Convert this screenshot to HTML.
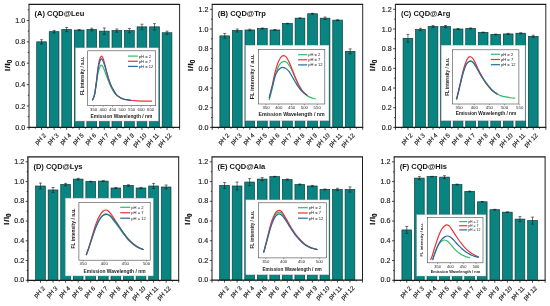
<!DOCTYPE html>
<html><head><meta charset="utf-8"><title>CQD pH fluorescence</title>
<style>
html,body{margin:0;padding:0;background:#fff;}
body{width:550px;height:306px;overflow:hidden;}
svg{display:block;font-family:"Liberation Sans",sans-serif;}
</style></head><body>
<svg width="550" height="306" viewBox="0 0 550 306">
<rect width="550" height="306" fill="#fff"/>
<rect x="36.7" y="41.83" width="9.7" height="85.57" fill="#0a8481" stroke="#083e3e" stroke-width="0.7"/>
<rect x="49.25" y="31.67" width="9.7" height="95.73" fill="#0a8481" stroke="#083e3e" stroke-width="0.7"/>
<rect x="61.8" y="29.53" width="9.7" height="97.87" fill="#0a8481" stroke="#083e3e" stroke-width="0.7"/>
<rect x="74.35" y="30.07" width="9.7" height="97.33" fill="#0a8481" stroke="#083e3e" stroke-width="0.7"/>
<rect x="86.9" y="29.53" width="9.7" height="97.87" fill="#0a8481" stroke="#083e3e" stroke-width="0.7"/>
<rect x="99.45" y="31.14" width="9.7" height="96.26" fill="#0a8481" stroke="#083e3e" stroke-width="0.7"/>
<rect x="112" y="30.6" width="9.7" height="96.8" fill="#0a8481" stroke="#083e3e" stroke-width="0.7"/>
<rect x="124.55" y="30.6" width="9.7" height="96.8" fill="#0a8481" stroke="#083e3e" stroke-width="0.7"/>
<rect x="137.1" y="26.86" width="9.7" height="100.54" fill="#0a8481" stroke="#083e3e" stroke-width="0.7"/>
<rect x="149.65" y="26.86" width="9.7" height="100.54" fill="#0a8481" stroke="#083e3e" stroke-width="0.7"/>
<rect x="162.2" y="32.74" width="9.7" height="94.66" fill="#0a8481" stroke="#083e3e" stroke-width="0.7"/>
<path d="M41.55 39.7V43.97M40.05 39.7h3M40.05 43.97h3" stroke="#1a1a1a" stroke-width="0.6" fill="none"/>
<path d="M54.1 30.39V32.96M52.6 30.39h3M52.6 32.96h3" stroke="#1a1a1a" stroke-width="0.6" fill="none"/>
<path d="M66.65 27.4V31.67M65.15 27.4h3M65.15 31.67h3" stroke="#1a1a1a" stroke-width="0.6" fill="none"/>
<path d="M79.2 29.53V30.6M77.7 29.53h3M77.7 30.6h3" stroke="#1a1a1a" stroke-width="0.6" fill="none"/>
<path d="M91.75 28.25V30.82M90.25 28.25h3M90.25 30.82h3" stroke="#1a1a1a" stroke-width="0.6" fill="none"/>
<path d="M104.3 27.93V34.35M102.8 27.93h3M102.8 34.35h3" stroke="#1a1a1a" stroke-width="0.6" fill="none"/>
<path d="M116.85 29V32.21M115.35 29h3M115.35 32.21h3" stroke="#1a1a1a" stroke-width="0.6" fill="none"/>
<path d="M129.4 28.47V32.74M127.9 28.47h3M127.9 32.74h3" stroke="#1a1a1a" stroke-width="0.6" fill="none"/>
<path d="M141.95 24.19V29.53M140.45 24.19h3M140.45 29.53h3" stroke="#1a1a1a" stroke-width="0.6" fill="none"/>
<path d="M154.5 23.65V30.07M153 23.65h3M153 30.07h3" stroke="#1a1a1a" stroke-width="0.6" fill="none"/>
<path d="M167.05 31.14V34.35M165.55 31.14h3M165.55 34.35h3" stroke="#1a1a1a" stroke-width="0.6" fill="none"/>
<rect x="75.5" y="47.9" width="82.8" height="73.1" fill="#fff" stroke="#bbb" stroke-width="0.4"/>
<path d="M92.64 99.85C92.96 99.03 93.91 97.64 94.54 94.92C95.17 92.2 95.9 86.92 96.44 83.54C96.97 80.15 97.29 77.15 97.76 74.62C98.24 72.09 98.71 69.94 99.28 68.35C99.85 66.77 100.55 65.32 101.18 65.13C101.81 64.94 102.45 66.11 103.08 67.22C103.71 68.32 104.34 70.13 104.98 71.77C105.61 73.41 106.24 75.41 106.87 77.08C107.51 78.76 108.14 80.31 108.77 81.83C109.4 83.35 109.88 84.61 110.67 86.19C111.46 87.77 112.57 89.83 113.51 91.31C114.46 92.8 115.25 94.03 116.36 95.11C117.47 96.19 118.89 97.07 120.16 97.77C121.42 98.46 122.21 98.87 123.95 99.28C125.69 99.7 129.49 100.08 130.59 100.23" fill="none" stroke="#34b96b" stroke-width="1.2" stroke-linejoin="round" stroke-linecap="round"/>
<path d="M92.64 99.85C92.96 98.97 93.91 97.64 94.54 94.54C95.17 91.44 95.9 85.37 96.44 81.26C96.97 77.15 97.29 73.29 97.76 69.87C98.24 66.46 98.71 63.04 99.28 60.76C99.85 58.49 100.55 56.59 101.18 56.21C101.81 55.83 102.45 57 103.08 58.49C103.71 59.97 104.34 62.76 104.98 65.13C105.61 67.5 106.24 70.35 106.87 72.72C107.51 75.09 108.14 77.37 108.77 79.36C109.4 81.35 109.88 82.84 110.67 84.67C111.46 86.51 112.57 88.72 113.51 90.37C114.46 92.01 115.25 93.34 116.36 94.54C117.47 95.74 118.89 96.79 120.16 97.58C121.42 98.37 122.37 98.84 123.95 99.28C125.53 99.73 127.43 99.98 129.64 100.23C131.86 100.49 133.6 100.64 137.23 100.8C140.87 100.96 149.09 101.12 151.46 101.18" fill="none" stroke="#ee3039" stroke-width="1.2" stroke-linejoin="round" stroke-linecap="round"/>
<path d="M92.64 99.85C92.96 99 93.91 97.7 94.54 94.73C95.17 91.76 95.9 85.91 96.44 82.02C96.97 78.13 97.29 74.52 97.76 71.39C98.24 68.26 98.71 65.32 99.28 63.23C99.85 61.14 100.55 59.25 101.18 58.87C101.81 58.49 102.45 59.69 103.08 60.95C103.71 62.22 104.34 64.43 104.98 66.46C105.61 68.48 106.24 70.95 106.87 73.1C107.51 75.25 108.14 77.43 108.77 79.36C109.4 81.29 109.88 82.84 110.67 84.67C111.46 86.51 112.57 88.72 113.51 90.37C114.46 92.01 115.25 93.34 116.36 94.54C117.47 95.74 118.89 96.79 120.16 97.58C121.42 98.37 122.21 98.84 123.95 99.28C125.69 99.73 129.49 100.08 130.59 100.23" fill="none" stroke="#276a9e" stroke-width="1.2" stroke-linejoin="round" stroke-linecap="round"/>
<rect x="87.7" y="50.8" width="68" height="54.9" fill="none" stroke="#444" stroke-width="0.6"/>
<path d="M93.6 105.7v1.2" stroke="#444" stroke-width="0.5"/>
<text x="93.6" y="111.35" font-size="4.3" text-anchor="middle" fill="#222">350</text>
<path d="M103.1 105.7v1.2" stroke="#444" stroke-width="0.5"/>
<text x="103.1" y="111.35" font-size="4.3" text-anchor="middle" fill="#222">400</text>
<path d="M112.6 105.7v1.2" stroke="#444" stroke-width="0.5"/>
<text x="112.6" y="111.35" font-size="4.3" text-anchor="middle" fill="#222">450</text>
<path d="M122.1 105.7v1.2" stroke="#444" stroke-width="0.5"/>
<text x="122.1" y="111.35" font-size="4.3" text-anchor="middle" fill="#222">500</text>
<path d="M131.6 105.7v1.2" stroke="#444" stroke-width="0.5"/>
<text x="131.6" y="111.35" font-size="4.3" text-anchor="middle" fill="#222">550</text>
<path d="M141.1 105.7v1.2" stroke="#444" stroke-width="0.5"/>
<text x="141.1" y="111.35" font-size="4.3" text-anchor="middle" fill="#222">600</text>
<path d="M150.6 105.7v1.2" stroke="#444" stroke-width="0.5"/>
<text x="150.6" y="111.35" font-size="4.3" text-anchor="middle" fill="#222">650</text>
<text x="121.5" y="117.67" font-size="4.9" font-weight="bold" text-anchor="middle" fill="#222">Emission Wavelength / nm</text>
<text transform="translate(83.69 75.95) rotate(-90)" font-size="4.7" font-weight="bold" text-anchor="middle" fill="#222">FL intensity / a.u.</text>
<path d="M128 56.1h9.8" stroke="#34b96b" stroke-width="1.2"/>
<text x="138.8" y="57.58" font-size="4.1" fill="#222">pH = 2</text>
<path d="M128 61.25h9.8" stroke="#ee3039" stroke-width="1.2"/>
<text x="138.8" y="62.73" font-size="4.1" fill="#222">pH = 7</text>
<path d="M128 66.4h9.8" stroke="#276a9e" stroke-width="1.2"/>
<text x="138.8" y="67.88" font-size="4.1" fill="#222">pH = 12</text>
<path d="M28.52 4.4H180.07M28.52 127.4H180.07" stroke="#1c1c1c" stroke-width="1.1" fill="none"/>
<path d="M29 4.4V127.4" stroke="#1c1c1c" stroke-width="0.95" fill="none"/>
<path d="M179.6 4.4V127.4" stroke="#1c1c1c" stroke-width="0.95" fill="none"/>
<text x="25.2" y="129.95" font-size="7.1" text-anchor="end" fill="#1a1a1a" stroke="#1a1a1a" stroke-width="0.15">0.0</text>
<text x="25.2" y="108.56" font-size="7.1" text-anchor="end" fill="#1a1a1a" stroke="#1a1a1a" stroke-width="0.15">0.2</text>
<text x="25.2" y="87.17" font-size="7.1" text-anchor="end" fill="#1a1a1a" stroke="#1a1a1a" stroke-width="0.15">0.4</text>
<text x="25.2" y="65.78" font-size="7.1" text-anchor="end" fill="#1a1a1a" stroke="#1a1a1a" stroke-width="0.15">0.6</text>
<text x="25.2" y="44.38" font-size="7.1" text-anchor="end" fill="#1a1a1a" stroke="#1a1a1a" stroke-width="0.15">0.8</text>
<text x="25.2" y="22.99" font-size="7.1" text-anchor="end" fill="#1a1a1a" stroke="#1a1a1a" stroke-width="0.15">1.0</text>
<path d="M29 127.4h-2.2M29 116.7h-1.2M29 106.01h-2.2M29 95.31h-1.2M29 84.62h-2.2M29 73.92h-1.2M29 63.23h-2.2M29 52.53h-1.2M29 41.83h-2.2M29 31.14h-1.2M29 20.44h-2.2M29 9.75h-1.2M29 127.4v2.4M35.27 127.4v1.3M41.55 127.4v2.4M47.83 127.4v1.3M54.1 127.4v2.4M60.38 127.4v1.3M66.65 127.4v2.4M72.92 127.4v1.3M79.2 127.4v2.4M85.47 127.4v1.3M91.75 127.4v2.4M98.02 127.4v1.3M104.3 127.4v2.4M110.57 127.4v1.3M116.85 127.4v2.4M123.12 127.4v1.3M129.4 127.4v2.4M135.68 127.4v1.3M141.95 127.4v2.4M148.22 127.4v1.3M154.5 127.4v2.4M160.77 127.4v1.3M167.05 127.4v2.4M173.32 127.4v1.3M179.6 127.4v2.4" stroke="#1c1c1c" stroke-width="0.8" fill="none"/>
<text transform="translate(46.55 135.8) rotate(-45)" font-size="6.2" text-anchor="end" fill="#1a1a1a" stroke="#1a1a1a" stroke-width="0.15">pH 2</text>
<text transform="translate(59.1 135.8) rotate(-45)" font-size="6.2" text-anchor="end" fill="#1a1a1a" stroke="#1a1a1a" stroke-width="0.15">pH 3</text>
<text transform="translate(71.65 135.8) rotate(-45)" font-size="6.2" text-anchor="end" fill="#1a1a1a" stroke="#1a1a1a" stroke-width="0.15">pH 4</text>
<text transform="translate(84.2 135.8) rotate(-45)" font-size="6.2" text-anchor="end" fill="#1a1a1a" stroke="#1a1a1a" stroke-width="0.15">pH 5</text>
<text transform="translate(96.75 135.8) rotate(-45)" font-size="6.2" text-anchor="end" fill="#1a1a1a" stroke="#1a1a1a" stroke-width="0.15">pH 6</text>
<text transform="translate(109.3 135.8) rotate(-45)" font-size="6.2" text-anchor="end" fill="#1a1a1a" stroke="#1a1a1a" stroke-width="0.15">pH 7</text>
<text transform="translate(121.85 135.8) rotate(-45)" font-size="6.2" text-anchor="end" fill="#1a1a1a" stroke="#1a1a1a" stroke-width="0.15">pH 8</text>
<text transform="translate(134.4 135.8) rotate(-45)" font-size="6.2" text-anchor="end" fill="#1a1a1a" stroke="#1a1a1a" stroke-width="0.15">pH 9</text>
<text transform="translate(146.95 135.8) rotate(-45)" font-size="6.2" text-anchor="end" fill="#1a1a1a" stroke="#1a1a1a" stroke-width="0.15">pH 10</text>
<text transform="translate(159.5 135.8) rotate(-45)" font-size="6.2" text-anchor="end" fill="#1a1a1a" stroke="#1a1a1a" stroke-width="0.15">pH 11</text>
<text transform="translate(172.05 135.8) rotate(-45)" font-size="6.2" text-anchor="end" fill="#1a1a1a" stroke="#1a1a1a" stroke-width="0.15">pH 12</text>
<text x="34.5" y="15.9" font-size="7.5" font-weight="bold" fill="#111">(A) CQD@Leu</text>
<text transform="translate(10.1 71.1) rotate(-90)" font-size="7.4" font-weight="bold" letter-spacing="0.8" fill="#111" stroke="#111" stroke-width="0.25">I/I<tspan font-size="6.3" dy="2.1" dx="-0.8">0</tspan></text>
<rect x="219.89" y="35.89" width="9.7" height="91.51" fill="#0a8481" stroke="#083e3e" stroke-width="0.7"/>
<rect x="232.43" y="30.48" width="9.7" height="96.92" fill="#0a8481" stroke="#083e3e" stroke-width="0.7"/>
<rect x="244.97" y="29.98" width="9.7" height="97.42" fill="#0a8481" stroke="#083e3e" stroke-width="0.7"/>
<rect x="257.52" y="28.51" width="9.7" height="98.89" fill="#0a8481" stroke="#083e3e" stroke-width="0.7"/>
<rect x="270.06" y="29.98" width="9.7" height="97.42" fill="#0a8481" stroke="#083e3e" stroke-width="0.7"/>
<rect x="282.6" y="23.59" width="9.7" height="103.81" fill="#0a8481" stroke="#083e3e" stroke-width="0.7"/>
<rect x="295.14" y="18.18" width="9.7" height="109.22" fill="#0a8481" stroke="#083e3e" stroke-width="0.7"/>
<rect x="307.68" y="13.75" width="9.7" height="113.65" fill="#0a8481" stroke="#083e3e" stroke-width="0.7"/>
<rect x="320.22" y="18.18" width="9.7" height="109.22" fill="#0a8481" stroke="#083e3e" stroke-width="0.7"/>
<rect x="332.77" y="20.14" width="9.7" height="107.26" fill="#0a8481" stroke="#083e3e" stroke-width="0.7"/>
<rect x="345.31" y="51.34" width="9.7" height="76.06" fill="#0a8481" stroke="#083e3e" stroke-width="0.7"/>
<path d="M224.74 33.43V38.35M223.24 33.43h3M223.24 38.35h3" stroke="#1a1a1a" stroke-width="0.6" fill="none"/>
<path d="M237.28 29V31.95M235.78 29h3M235.78 31.95h3" stroke="#1a1a1a" stroke-width="0.6" fill="none"/>
<path d="M249.82 29.2V30.77M248.32 29.2h3M248.32 30.77h3" stroke="#1a1a1a" stroke-width="0.6" fill="none"/>
<path d="M262.37 28.02V29M260.87 28.02h3M260.87 29h3" stroke="#1a1a1a" stroke-width="0.6" fill="none"/>
<path d="M274.91 29.49V30.48M273.41 29.49h3M273.41 30.48h3" stroke="#1a1a1a" stroke-width="0.6" fill="none"/>
<path d="M287.45 23.29V23.88M285.95 23.29h3M285.95 23.88h3" stroke="#1a1a1a" stroke-width="0.6" fill="none"/>
<path d="M299.99 17.88V18.47M298.49 17.88h3M298.49 18.47h3" stroke="#1a1a1a" stroke-width="0.6" fill="none"/>
<path d="M312.53 13.26V14.24M311.03 13.26h3M311.03 14.24h3" stroke="#1a1a1a" stroke-width="0.6" fill="none"/>
<path d="M325.07 17V19.36M323.57 17h3M323.57 19.36h3" stroke="#1a1a1a" stroke-width="0.6" fill="none"/>
<path d="M337.62 19.75V20.54M336.12 19.75h3M336.12 20.54h3" stroke="#1a1a1a" stroke-width="0.6" fill="none"/>
<path d="M350.16 48.88V53.8M348.66 48.88h3M348.66 53.8h3" stroke="#1a1a1a" stroke-width="0.6" fill="none"/>
<rect x="245.7" y="45.2" width="83.2" height="75.5" fill="#fff" stroke="#bbb" stroke-width="0.4"/>
<path d="M269.28 99.61C269.76 97.81 271.18 92.66 272.13 88.8C273.08 84.94 274.03 79.94 274.98 76.46C275.92 72.98 276.87 70.14 277.82 67.92C278.77 65.71 279.56 64.29 280.67 63.18C281.77 62.07 283.36 61.35 284.46 61.28C285.57 61.22 286.36 61.85 287.31 62.8C288.26 63.75 289.21 65.33 290.16 66.98C291.1 68.62 292.05 70.61 293 72.67C293.95 74.72 294.9 77.25 295.85 79.31C296.8 81.36 297.75 83.26 298.69 85C299.64 86.74 300.59 88.32 301.54 89.75C302.49 91.17 303.28 92.43 304.39 93.54C305.49 94.65 306.76 95.6 308.18 96.39C309.61 97.18 311.76 97.87 312.93 98.28C314.1 98.7 314.82 98.76 315.2 98.85" fill="none" stroke="#34b96b" stroke-width="1.2" stroke-linejoin="round" stroke-linecap="round"/>
<path d="M269.28 97.72C269.76 95.75 271.18 90.13 272.13 85.95C273.08 81.78 274.03 76.46 274.98 72.67C275.92 68.87 276.87 65.71 277.82 63.18C278.77 60.65 279.72 58.75 280.67 57.49C281.62 56.22 282.57 55.65 283.51 55.59C284.46 55.53 285.41 56 286.36 57.11C287.31 58.22 288.26 60.21 289.21 62.23C290.16 64.26 291.1 66.88 292.05 69.25C293 71.62 293.95 74.15 294.9 76.46C295.85 78.77 296.8 81.14 297.75 83.1C298.69 85.07 299.64 86.74 300.59 88.23C301.54 89.71 302.39 90.88 303.44 92.02C304.48 93.16 306.28 94.55 306.85 95.06" fill="none" stroke="#ee3039" stroke-width="1.2" stroke-linejoin="round" stroke-linecap="round"/>
<path d="M269.28 97.72C269.76 95.91 271.18 90.44 272.13 86.9C273.08 83.36 274.03 79.15 274.98 76.46C275.92 73.77 276.87 72.19 277.82 70.77C278.77 69.35 279.81 68.49 280.67 67.92C281.52 67.35 282 67.2 282.94 67.35C283.89 67.51 285.32 68.15 286.36 68.87C287.4 69.6 288.26 70.45 289.21 71.72C290.16 72.98 291.1 74.88 292.05 76.46C293 78.04 293.95 79.63 294.9 81.21C295.85 82.79 296.8 84.53 297.75 85.95C298.69 87.37 299.64 88.64 300.59 89.75C301.54 90.85 302.39 91.71 303.44 92.59C304.48 93.48 306.28 94.65 306.85 95.06" fill="none" stroke="#276a9e" stroke-width="1.2" stroke-linejoin="round" stroke-linecap="round"/>
<rect x="258.3" y="49.6" width="66.5" height="54.4" fill="none" stroke="#444" stroke-width="0.6"/>
<path d="M266 104v1.2" stroke="#444" stroke-width="0.5"/>
<text x="266" y="108.65" font-size="4.3" text-anchor="middle" fill="#222">350</text>
<path d="M278.8 104v1.2" stroke="#444" stroke-width="0.5"/>
<text x="278.8" y="108.65" font-size="4.3" text-anchor="middle" fill="#222">400</text>
<path d="M291.6 104v1.2" stroke="#444" stroke-width="0.5"/>
<text x="291.6" y="108.65" font-size="4.3" text-anchor="middle" fill="#222">450</text>
<path d="M304.4 104v1.2" stroke="#444" stroke-width="0.5"/>
<text x="304.4" y="108.65" font-size="4.3" text-anchor="middle" fill="#222">500</text>
<path d="M317.2 104v1.2" stroke="#444" stroke-width="0.5"/>
<text x="317.2" y="108.65" font-size="4.3" text-anchor="middle" fill="#222">550</text>
<text x="291.6" y="116.48" font-size="5.25" font-weight="bold" text-anchor="middle" fill="#222">Emission Wavelength / nm</text>
<text transform="translate(254.28 76.8) rotate(-90)" font-size="5.5" font-weight="bold" text-anchor="middle" fill="#222">FL intensity / a.u.</text>
<path d="M298.1 54.7h9.1" stroke="#34b96b" stroke-width="1.2"/>
<text x="308.2" y="56.18" font-size="4.1" fill="#222">pH = 2</text>
<path d="M298.1 59.8h9.1" stroke="#ee3039" stroke-width="1.2"/>
<text x="308.2" y="61.28" font-size="4.1" fill="#222">pH = 7</text>
<path d="M298.1 64.9h9.1" stroke="#276a9e" stroke-width="1.2"/>
<text x="308.2" y="66.38" font-size="4.1" fill="#222">pH = 12</text>
<path d="M211.72 4.4H363.18M211.72 127.4H363.18" stroke="#1c1c1c" stroke-width="1.1" fill="none"/>
<path d="M212.2 4.4V127.4" stroke="#1c1c1c" stroke-width="0.95" fill="none"/>
<path d="M362.7 4.4V127.4" stroke="#1c1c1c" stroke-width="0.95" fill="none"/>
<text x="208.4" y="129.95" font-size="7.1" text-anchor="end" fill="#1a1a1a" stroke="#1a1a1a" stroke-width="0.15">0.0</text>
<text x="208.4" y="110.27" font-size="7.1" text-anchor="end" fill="#1a1a1a" stroke="#1a1a1a" stroke-width="0.15">0.2</text>
<text x="208.4" y="90.59" font-size="7.1" text-anchor="end" fill="#1a1a1a" stroke="#1a1a1a" stroke-width="0.15">0.4</text>
<text x="208.4" y="70.91" font-size="7.1" text-anchor="end" fill="#1a1a1a" stroke="#1a1a1a" stroke-width="0.15">0.6</text>
<text x="208.4" y="51.23" font-size="7.1" text-anchor="end" fill="#1a1a1a" stroke="#1a1a1a" stroke-width="0.15">0.8</text>
<text x="208.4" y="31.55" font-size="7.1" text-anchor="end" fill="#1a1a1a" stroke="#1a1a1a" stroke-width="0.15">1.0</text>
<text x="208.4" y="11.87" font-size="7.1" text-anchor="end" fill="#1a1a1a" stroke="#1a1a1a" stroke-width="0.15">1.2</text>
<path d="M212.2 127.4h-2.2M212.2 117.56h-1.2M212.2 107.72h-2.2M212.2 97.88h-1.2M212.2 88.04h-2.2M212.2 78.2h-1.2M212.2 68.36h-2.2M212.2 58.52h-1.2M212.2 48.68h-2.2M212.2 38.84h-1.2M212.2 29h-2.2M212.2 19.16h-1.2M212.2 9.32h-2.2M212.2 127.4v2.4M218.47 127.4v1.3M224.74 127.4v2.4M231.01 127.4v1.3M237.28 127.4v2.4M243.55 127.4v1.3M249.82 127.4v2.4M256.1 127.4v1.3M262.37 127.4v2.4M268.64 127.4v1.3M274.91 127.4v2.4M281.18 127.4v1.3M287.45 127.4v2.4M293.72 127.4v1.3M299.99 127.4v2.4M306.26 127.4v1.3M312.53 127.4v2.4M318.8 127.4v1.3M325.07 127.4v2.4M331.35 127.4v1.3M337.62 127.4v2.4M343.89 127.4v1.3M350.16 127.4v2.4M356.43 127.4v1.3M362.7 127.4v2.4" stroke="#1c1c1c" stroke-width="0.8" fill="none"/>
<text transform="translate(229.74 135.8) rotate(-45)" font-size="6.2" text-anchor="end" fill="#1a1a1a" stroke="#1a1a1a" stroke-width="0.15">pH 2</text>
<text transform="translate(242.28 135.8) rotate(-45)" font-size="6.2" text-anchor="end" fill="#1a1a1a" stroke="#1a1a1a" stroke-width="0.15">pH 3</text>
<text transform="translate(254.82 135.8) rotate(-45)" font-size="6.2" text-anchor="end" fill="#1a1a1a" stroke="#1a1a1a" stroke-width="0.15">pH 4</text>
<text transform="translate(267.37 135.8) rotate(-45)" font-size="6.2" text-anchor="end" fill="#1a1a1a" stroke="#1a1a1a" stroke-width="0.15">pH 5</text>
<text transform="translate(279.91 135.8) rotate(-45)" font-size="6.2" text-anchor="end" fill="#1a1a1a" stroke="#1a1a1a" stroke-width="0.15">pH 6</text>
<text transform="translate(292.45 135.8) rotate(-45)" font-size="6.2" text-anchor="end" fill="#1a1a1a" stroke="#1a1a1a" stroke-width="0.15">pH 7</text>
<text transform="translate(304.99 135.8) rotate(-45)" font-size="6.2" text-anchor="end" fill="#1a1a1a" stroke="#1a1a1a" stroke-width="0.15">pH 8</text>
<text transform="translate(317.53 135.8) rotate(-45)" font-size="6.2" text-anchor="end" fill="#1a1a1a" stroke="#1a1a1a" stroke-width="0.15">pH 9</text>
<text transform="translate(330.07 135.8) rotate(-45)" font-size="6.2" text-anchor="end" fill="#1a1a1a" stroke="#1a1a1a" stroke-width="0.15">pH 10</text>
<text transform="translate(342.62 135.8) rotate(-45)" font-size="6.2" text-anchor="end" fill="#1a1a1a" stroke="#1a1a1a" stroke-width="0.15">pH 11</text>
<text transform="translate(355.16 135.8) rotate(-45)" font-size="6.2" text-anchor="end" fill="#1a1a1a" stroke="#1a1a1a" stroke-width="0.15">pH 12</text>
<text x="217.7" y="15.9" font-size="7.5" font-weight="bold" fill="#111">(B) CQD@Trp</text>
<text transform="translate(193.1 71.1) rotate(-90)" font-size="7.4" font-weight="bold" letter-spacing="0.8" fill="#111" stroke="#111" stroke-width="0.25">I/I<tspan font-size="6.3" dy="2.1" dx="-0.8">0</tspan></text>
<rect x="403.08" y="38.35" width="9.7" height="89.05" fill="#0a8481" stroke="#083e3e" stroke-width="0.7"/>
<rect x="415.62" y="29.49" width="9.7" height="97.91" fill="#0a8481" stroke="#083e3e" stroke-width="0.7"/>
<rect x="428.15" y="26.54" width="9.7" height="100.86" fill="#0a8481" stroke="#083e3e" stroke-width="0.7"/>
<rect x="440.68" y="26.54" width="9.7" height="100.86" fill="#0a8481" stroke="#083e3e" stroke-width="0.7"/>
<rect x="453.22" y="29" width="9.7" height="98.4" fill="#0a8481" stroke="#083e3e" stroke-width="0.7"/>
<rect x="465.75" y="28.51" width="9.7" height="98.89" fill="#0a8481" stroke="#083e3e" stroke-width="0.7"/>
<rect x="478.28" y="32.44" width="9.7" height="94.96" fill="#0a8481" stroke="#083e3e" stroke-width="0.7"/>
<rect x="490.82" y="34.41" width="9.7" height="92.99" fill="#0a8481" stroke="#083e3e" stroke-width="0.7"/>
<rect x="503.35" y="33.92" width="9.7" height="93.48" fill="#0a8481" stroke="#083e3e" stroke-width="0.7"/>
<rect x="515.88" y="33.23" width="9.7" height="94.17" fill="#0a8481" stroke="#083e3e" stroke-width="0.7"/>
<rect x="528.42" y="36.38" width="9.7" height="91.02" fill="#0a8481" stroke="#083e3e" stroke-width="0.7"/>
<path d="M407.93 34.41V42.28M406.43 34.41h3M406.43 42.28h3" stroke="#1a1a1a" stroke-width="0.6" fill="none"/>
<path d="M420.47 28.31V30.67M418.97 28.31h3M418.97 30.67h3" stroke="#1a1a1a" stroke-width="0.6" fill="none"/>
<path d="M433 25.56V27.52M431.5 25.56h3M431.5 27.52h3" stroke="#1a1a1a" stroke-width="0.6" fill="none"/>
<path d="M445.53 25.56V27.52M444.03 25.56h3M444.03 27.52h3" stroke="#1a1a1a" stroke-width="0.6" fill="none"/>
<path d="M458.07 28.41V29.59M456.57 28.41h3M456.57 29.59h3" stroke="#1a1a1a" stroke-width="0.6" fill="none"/>
<path d="M470.6 27.92V29.1M469.1 27.92h3M469.1 29.1h3" stroke="#1a1a1a" stroke-width="0.6" fill="none"/>
<path d="M483.13 32.05V32.84M481.63 32.05h3M481.63 32.84h3" stroke="#1a1a1a" stroke-width="0.6" fill="none"/>
<path d="M495.67 34.12V34.71M494.17 34.12h3M494.17 34.71h3" stroke="#1a1a1a" stroke-width="0.6" fill="none"/>
<path d="M508.2 33.33V34.51M506.7 33.33h3M506.7 34.51h3" stroke="#1a1a1a" stroke-width="0.6" fill="none"/>
<path d="M520.73 32.74V33.72M519.23 32.74h3M519.23 33.72h3" stroke="#1a1a1a" stroke-width="0.6" fill="none"/>
<path d="M533.27 35.2V37.56M531.77 35.2h3M531.77 37.56h3" stroke="#1a1a1a" stroke-width="0.6" fill="none"/>
<rect x="441.2" y="45.2" width="83.9" height="75.5" fill="#fff" stroke="#bbb" stroke-width="0.4"/>
<path d="M456.69 98.85C457.01 97.59 457.96 93.89 458.59 91.26C459.22 88.64 459.86 85.73 460.49 83.1C461.12 80.48 461.75 77.89 462.39 75.51C463.02 73.14 463.65 70.74 464.28 68.87C464.92 67.01 465.48 65.52 466.18 64.32C466.88 63.12 467.7 62.23 468.46 61.66C469.22 61.09 469.91 60.78 470.73 60.9C471.56 61.03 472.57 61.57 473.39 62.42C474.21 63.28 474.91 64.79 475.67 66.03C476.43 67.26 477.15 68.46 477.94 69.82C478.74 71.18 479.53 72.7 480.41 74.19C481.3 75.67 482.31 77.32 483.26 78.74C484.21 80.16 485.16 81.46 486.1 82.72C487.05 83.99 487.84 85 488.95 86.33C490.06 87.66 491.39 89.43 492.75 90.69C494.11 91.96 495.69 93.07 497.11 93.92C498.53 94.77 499.8 95.31 501.28 95.82C502.77 96.32 504.45 96.64 506.03 96.96C507.61 97.27 509.35 97.53 510.77 97.72C512.2 97.91 513.93 98.03 514.57 98.09" fill="none" stroke="#34b96b" stroke-width="1.2" stroke-linejoin="round" stroke-linecap="round"/>
<path d="M456.69 98.85C457.01 97.49 457.96 93.48 458.59 90.69C459.22 87.91 459.86 85 460.49 82.16C461.12 79.31 461.75 76.21 462.39 73.62C463.02 71.02 463.65 68.65 464.28 66.6C464.92 64.54 465.55 62.74 466.18 61.28C466.81 59.83 467.38 58.63 468.08 57.87C468.77 57.11 469.56 56.63 470.35 56.73C471.15 56.82 472 57.42 472.82 58.44C473.64 59.45 474.5 61.22 475.29 62.8C476.08 64.38 476.71 66.12 477.57 67.92C478.42 69.73 479.46 71.81 480.41 73.62C481.36 75.42 482.31 77.16 483.26 78.74C484.21 80.32 485.16 81.74 486.1 83.1C487.05 84.46 487.84 85.6 488.95 86.9C490.06 88.2 491.39 89.71 492.75 90.88C494.11 92.05 496.38 93.41 497.11 93.92" fill="none" stroke="#ee3039" stroke-width="1.2" stroke-linejoin="round" stroke-linecap="round"/>
<path d="M456.69 98.85C457.01 97.59 457.96 93.86 458.59 91.26C459.22 88.67 459.86 85.89 460.49 83.29C461.12 80.7 461.75 78.04 462.39 75.7C463.02 73.36 463.65 71.09 464.28 69.25C464.92 67.42 465.48 65.9 466.18 64.7C466.88 63.5 467.7 62.61 468.46 62.04C469.22 61.47 469.91 61.16 470.73 61.28C471.56 61.41 472.57 61.98 473.39 62.8C474.21 63.62 474.91 64.98 475.67 66.22C476.43 67.45 477.15 68.81 477.94 70.2C478.74 71.59 479.53 73.08 480.41 74.57C481.3 76.05 482.31 77.66 483.26 79.12C484.21 80.57 485.16 82 486.1 83.29C487.05 84.59 487.84 85.6 488.95 86.9C490.06 88.2 491.39 89.9 492.75 91.07C494.11 92.24 496.38 93.45 497.11 93.92" fill="none" stroke="#276a9e" stroke-width="1.2" stroke-linejoin="round" stroke-linecap="round"/>
<rect x="452.4" y="49.8" width="66.5" height="54.2" fill="none" stroke="#444" stroke-width="0.6"/>
<path d="M459.1 104v1.2" stroke="#444" stroke-width="0.5"/>
<text x="459.1" y="108.65" font-size="4.3" text-anchor="middle" fill="#222">350</text>
<path d="M474.25 104v1.2" stroke="#444" stroke-width="0.5"/>
<text x="474.25" y="108.65" font-size="4.3" text-anchor="middle" fill="#222">400</text>
<path d="M489.4 104v1.2" stroke="#444" stroke-width="0.5"/>
<text x="489.4" y="108.65" font-size="4.3" text-anchor="middle" fill="#222">450</text>
<path d="M504.55 104v1.2" stroke="#444" stroke-width="0.5"/>
<text x="504.55" y="108.65" font-size="4.3" text-anchor="middle" fill="#222">500</text>
<path d="M519.7 104v1.2" stroke="#444" stroke-width="0.5"/>
<text x="519.7" y="108.65" font-size="4.3" text-anchor="middle" fill="#222">550</text>
<text x="486" y="115.44" font-size="4.8" font-weight="bold" text-anchor="middle" fill="#222">Emission Wavelength / nm</text>
<text transform="translate(449.47 76.9) rotate(-90)" font-size="4.65" font-weight="bold" text-anchor="middle" fill="#222">FL intensity / a.u.</text>
<path d="M490.9 54.3h9.1" stroke="#34b96b" stroke-width="1.2"/>
<text x="501" y="55.78" font-size="4.1" fill="#222">pH = 2</text>
<path d="M490.9 59.5h9.1" stroke="#ee3039" stroke-width="1.2"/>
<text x="501" y="60.98" font-size="4.1" fill="#222">pH = 7</text>
<path d="M490.9 64.7h9.1" stroke="#276a9e" stroke-width="1.2"/>
<text x="501" y="66.18" font-size="4.1" fill="#222">pH = 12</text>
<path d="M394.92 4.4H546.27M394.92 127.4H546.27" stroke="#1c1c1c" stroke-width="1.1" fill="none"/>
<path d="M395.4 4.4V127.4" stroke="#1c1c1c" stroke-width="0.95" fill="none"/>
<path d="M545.8 4.4V127.4" stroke="#1c1c1c" stroke-width="0.95" fill="none"/>
<text x="391.6" y="129.95" font-size="7.1" text-anchor="end" fill="#1a1a1a" stroke="#1a1a1a" stroke-width="0.15">0.0</text>
<text x="391.6" y="110.27" font-size="7.1" text-anchor="end" fill="#1a1a1a" stroke="#1a1a1a" stroke-width="0.15">0.2</text>
<text x="391.6" y="90.59" font-size="7.1" text-anchor="end" fill="#1a1a1a" stroke="#1a1a1a" stroke-width="0.15">0.4</text>
<text x="391.6" y="70.91" font-size="7.1" text-anchor="end" fill="#1a1a1a" stroke="#1a1a1a" stroke-width="0.15">0.6</text>
<text x="391.6" y="51.23" font-size="7.1" text-anchor="end" fill="#1a1a1a" stroke="#1a1a1a" stroke-width="0.15">0.8</text>
<text x="391.6" y="31.55" font-size="7.1" text-anchor="end" fill="#1a1a1a" stroke="#1a1a1a" stroke-width="0.15">1.0</text>
<text x="391.6" y="11.87" font-size="7.1" text-anchor="end" fill="#1a1a1a" stroke="#1a1a1a" stroke-width="0.15">1.2</text>
<path d="M395.4 127.4h-2.2M395.4 117.56h-1.2M395.4 107.72h-2.2M395.4 97.88h-1.2M395.4 88.04h-2.2M395.4 78.2h-1.2M395.4 68.36h-2.2M395.4 58.52h-1.2M395.4 48.68h-2.2M395.4 38.84h-1.2M395.4 29h-2.2M395.4 19.16h-1.2M395.4 9.32h-2.2M395.4 127.4v2.4M401.67 127.4v1.3M407.93 127.4v2.4M414.2 127.4v1.3M420.47 127.4v2.4M426.73 127.4v1.3M433 127.4v2.4M439.27 127.4v1.3M445.53 127.4v2.4M451.8 127.4v1.3M458.07 127.4v2.4M464.33 127.4v1.3M470.6 127.4v2.4M476.87 127.4v1.3M483.13 127.4v2.4M489.4 127.4v1.3M495.67 127.4v2.4M501.93 127.4v1.3M508.2 127.4v2.4M514.47 127.4v1.3M520.73 127.4v2.4M527 127.4v1.3M533.27 127.4v2.4M539.53 127.4v1.3M545.8 127.4v2.4" stroke="#1c1c1c" stroke-width="0.8" fill="none"/>
<text transform="translate(412.93 135.8) rotate(-45)" font-size="6.2" text-anchor="end" fill="#1a1a1a" stroke="#1a1a1a" stroke-width="0.15">pH 2</text>
<text transform="translate(425.47 135.8) rotate(-45)" font-size="6.2" text-anchor="end" fill="#1a1a1a" stroke="#1a1a1a" stroke-width="0.15">pH 3</text>
<text transform="translate(438 135.8) rotate(-45)" font-size="6.2" text-anchor="end" fill="#1a1a1a" stroke="#1a1a1a" stroke-width="0.15">pH 4</text>
<text transform="translate(450.53 135.8) rotate(-45)" font-size="6.2" text-anchor="end" fill="#1a1a1a" stroke="#1a1a1a" stroke-width="0.15">pH 5</text>
<text transform="translate(463.07 135.8) rotate(-45)" font-size="6.2" text-anchor="end" fill="#1a1a1a" stroke="#1a1a1a" stroke-width="0.15">pH 6</text>
<text transform="translate(475.6 135.8) rotate(-45)" font-size="6.2" text-anchor="end" fill="#1a1a1a" stroke="#1a1a1a" stroke-width="0.15">pH 7</text>
<text transform="translate(488.13 135.8) rotate(-45)" font-size="6.2" text-anchor="end" fill="#1a1a1a" stroke="#1a1a1a" stroke-width="0.15">pH 8</text>
<text transform="translate(500.67 135.8) rotate(-45)" font-size="6.2" text-anchor="end" fill="#1a1a1a" stroke="#1a1a1a" stroke-width="0.15">pH 9</text>
<text transform="translate(513.2 135.8) rotate(-45)" font-size="6.2" text-anchor="end" fill="#1a1a1a" stroke="#1a1a1a" stroke-width="0.15">pH 10</text>
<text transform="translate(525.73 135.8) rotate(-45)" font-size="6.2" text-anchor="end" fill="#1a1a1a" stroke="#1a1a1a" stroke-width="0.15">pH 11</text>
<text transform="translate(538.27 135.8) rotate(-45)" font-size="6.2" text-anchor="end" fill="#1a1a1a" stroke="#1a1a1a" stroke-width="0.15">pH 12</text>
<text x="400.9" y="15.9" font-size="7.5" font-weight="bold" fill="#111">(C) CQD@Arg</text>
<text transform="translate(374.7 71.1) rotate(-90)" font-size="7.4" font-weight="bold" letter-spacing="0.8" fill="#111" stroke="#111" stroke-width="0.25">I/I<tspan font-size="6.3" dy="2.1" dx="-0.8">0</tspan></text>
<rect x="35.62" y="186.02" width="9.7" height="94.28" fill="#0a8481" stroke="#083e3e" stroke-width="0.7"/>
<rect x="48.18" y="189.97" width="9.7" height="90.33" fill="#0a8481" stroke="#083e3e" stroke-width="0.7"/>
<rect x="60.75" y="184.54" width="9.7" height="95.76" fill="#0a8481" stroke="#083e3e" stroke-width="0.7"/>
<rect x="73.32" y="179.11" width="9.7" height="101.19" fill="#0a8481" stroke="#083e3e" stroke-width="0.7"/>
<rect x="85.88" y="181.58" width="9.7" height="98.72" fill="#0a8481" stroke="#083e3e" stroke-width="0.7"/>
<rect x="98.45" y="181.09" width="9.7" height="99.21" fill="#0a8481" stroke="#083e3e" stroke-width="0.7"/>
<rect x="111.02" y="188" width="9.7" height="92.3" fill="#0a8481" stroke="#083e3e" stroke-width="0.7"/>
<rect x="123.58" y="185.53" width="9.7" height="94.77" fill="#0a8481" stroke="#083e3e" stroke-width="0.7"/>
<rect x="136.15" y="188" width="9.7" height="92.3" fill="#0a8481" stroke="#083e3e" stroke-width="0.7"/>
<rect x="148.72" y="186.02" width="9.7" height="94.28" fill="#0a8481" stroke="#083e3e" stroke-width="0.7"/>
<rect x="161.28" y="187.01" width="9.7" height="93.29" fill="#0a8481" stroke="#083e3e" stroke-width="0.7"/>
<path d="M40.47 183.06V188.98M38.97 183.06h3M38.97 188.98h3" stroke="#1a1a1a" stroke-width="0.6" fill="none"/>
<path d="M53.03 187.5V192.44M51.53 187.5h3M51.53 192.44h3" stroke="#1a1a1a" stroke-width="0.6" fill="none"/>
<path d="M65.6 183.36V185.73M64.1 183.36h3M64.1 185.73h3" stroke="#1a1a1a" stroke-width="0.6" fill="none"/>
<path d="M78.17 178.32V179.9M76.67 178.32h3M76.67 179.9h3" stroke="#1a1a1a" stroke-width="0.6" fill="none"/>
<path d="M90.73 181.19V181.97M89.23 181.19h3M89.23 181.97h3" stroke="#1a1a1a" stroke-width="0.6" fill="none"/>
<path d="M103.3 180.69V181.48M101.8 180.69h3M101.8 181.48h3" stroke="#1a1a1a" stroke-width="0.6" fill="none"/>
<path d="M115.87 187.4V188.59M114.37 187.4h3M114.37 188.59h3" stroke="#1a1a1a" stroke-width="0.6" fill="none"/>
<path d="M128.43 184.74V186.32M126.93 184.74h3M126.93 186.32h3" stroke="#1a1a1a" stroke-width="0.6" fill="none"/>
<path d="M141 187.4V188.59M139.5 187.4h3M139.5 188.59h3" stroke="#1a1a1a" stroke-width="0.6" fill="none"/>
<path d="M153.57 183.55V188.49M152.07 183.55h3M152.07 188.49h3" stroke="#1a1a1a" stroke-width="0.6" fill="none"/>
<path d="M166.13 185.04V188.98M164.63 185.04h3M164.63 188.98h3" stroke="#1a1a1a" stroke-width="0.6" fill="none"/>
<rect x="65.4" y="198.15" width="87.8" height="77.75" fill="#fff" stroke="#bbb" stroke-width="0.4"/>
<path d="M86.38 254.65C86.81 253.46 88.04 250.26 88.97 247.47C89.9 244.68 90.96 240.99 91.96 237.9C92.96 234.81 93.96 231.58 94.95 228.92C95.95 226.27 96.95 223.94 97.94 221.94C98.94 219.95 100.01 218.15 100.94 216.96C101.87 215.76 102.76 215.26 103.53 214.76C104.29 214.27 104.79 214 105.52 213.97C106.25 213.93 107.02 214.07 107.92 214.56C108.81 215.06 109.91 215.89 110.91 216.96C111.91 218.02 112.9 219.62 113.9 220.95C114.9 222.28 115.89 223.61 116.89 224.94C117.89 226.27 118.72 227.33 119.88 228.92C121.05 230.52 122.54 232.75 123.87 234.51C125.2 236.27 126.53 238.03 127.86 239.5C129.19 240.96 130.52 242.15 131.85 243.28C133.18 244.41 134.51 245.45 135.84 246.28C137.17 247.11 138.56 247.74 139.83 248.27C141.09 248.8 142.82 249.27 143.42 249.47" fill="none" stroke="#34b96b" stroke-width="1.2" stroke-linejoin="round" stroke-linecap="round"/>
<path d="M86.38 254.65C86.81 253.36 88.04 249.83 88.97 246.87C89.9 243.92 90.96 240.23 91.96 236.9C92.96 233.58 93.96 229.92 94.95 226.93C95.95 223.94 96.95 221.18 97.94 218.95C98.94 216.73 100.01 214.93 100.94 213.57C101.87 212.2 102.76 211.37 103.53 210.78C104.29 210.18 104.79 209.98 105.52 209.98C106.25 209.98 107.02 210.11 107.92 210.78C108.81 211.44 109.91 212.7 110.91 213.97C111.91 215.23 112.9 216.86 113.9 218.35C114.9 219.85 115.89 221.41 116.89 222.94C117.89 224.47 118.72 225.77 119.88 227.53C121.05 229.29 122.54 231.62 123.87 233.51C125.2 235.41 126.53 237.33 127.86 238.9C129.19 240.46 130.52 241.72 131.85 242.89C133.18 244.05 134.51 244.98 135.84 245.88C137.17 246.77 138.56 247.67 139.83 248.27C141.09 248.87 142.82 249.27 143.42 249.47" fill="none" stroke="#ee3039" stroke-width="1.2" stroke-linejoin="round" stroke-linecap="round"/>
<path d="M86.38 254.65C86.81 253.49 88.04 250.36 88.97 247.67C89.9 244.98 90.96 241.49 91.96 238.5C92.96 235.51 93.96 232.35 94.95 229.72C95.95 227.1 96.95 224.74 97.94 222.74C98.94 220.75 100.01 218.99 100.94 217.76C101.87 216.53 102.63 215.93 103.53 215.36C104.43 214.8 105.42 214.43 106.32 214.37C107.22 214.3 108.05 214.53 108.91 214.96C109.78 215.4 110.61 216.06 111.51 216.96C112.4 217.86 113.33 219.12 114.3 220.35C115.26 221.58 116.29 223.01 117.29 224.34C118.29 225.67 119.12 226.73 120.28 228.33C121.45 229.92 122.94 232.15 124.27 233.91C125.6 235.67 126.93 237.4 128.26 238.9C129.59 240.39 130.92 241.72 132.25 242.89C133.58 244.05 134.91 244.98 136.24 245.88C137.57 246.77 139.03 247.67 140.23 248.27C141.42 248.87 142.88 249.27 143.42 249.47" fill="none" stroke="#276a9e" stroke-width="1.2" stroke-linejoin="round" stroke-linecap="round"/>
<rect x="78.9" y="202.4" width="71.3" height="57.8" fill="none" stroke="#444" stroke-width="0.6"/>
<path d="M83.2 260.2v1.2" stroke="#444" stroke-width="0.5"/>
<text x="83.2" y="265.45" font-size="4.3" text-anchor="middle" fill="#222">350</text>
<path d="M104.3 260.2v1.2" stroke="#444" stroke-width="0.5"/>
<text x="104.3" y="265.45" font-size="4.3" text-anchor="middle" fill="#222">400</text>
<path d="M125.4 260.2v1.2" stroke="#444" stroke-width="0.5"/>
<text x="125.4" y="265.45" font-size="4.3" text-anchor="middle" fill="#222">450</text>
<path d="M146.5 260.2v1.2" stroke="#444" stroke-width="0.5"/>
<text x="146.5" y="265.45" font-size="4.3" text-anchor="middle" fill="#222">500</text>
<text x="114.6" y="272.88" font-size="4.92" font-weight="bold" text-anchor="middle" fill="#222">Emission Wavelength / nm</text>
<text transform="translate(74.78 228.4) rotate(-90)" font-size="4.95" font-weight="bold" text-anchor="middle" fill="#222">FL intensity / a.u.</text>
<path d="M120.2 207.3h10" stroke="#34b96b" stroke-width="1.2"/>
<text x="131.2" y="208.79" font-size="4.15" fill="#222">pH = 2</text>
<path d="M120.2 212.75h10" stroke="#ee3039" stroke-width="1.2"/>
<text x="131.2" y="214.24" font-size="4.15" fill="#222">pH = 7</text>
<path d="M120.2 218.2h10" stroke="#276a9e" stroke-width="1.2"/>
<text x="131.2" y="219.69" font-size="4.15" fill="#222">pH = 12</text>
<path d="M27.25 156.9H179.2M27.25 280.3H179.2" stroke="#1c1c1c" stroke-width="1.3" fill="none"/>
<path d="M27.9 156.9V280.3" stroke="#1c1c1c" stroke-width="1.3" fill="none"/>
<path d="M178.7 156.9V280.3" stroke="#1c1c1c" stroke-width="1" fill="none"/>
<text x="24.1" y="282.45" font-size="7.1" text-anchor="end" fill="#1a1a1a" stroke="#1a1a1a" stroke-width="0.15">0.0</text>
<text x="24.1" y="262.71" font-size="7.1" text-anchor="end" fill="#1a1a1a" stroke="#1a1a1a" stroke-width="0.15">0.2</text>
<text x="24.1" y="242.96" font-size="7.1" text-anchor="end" fill="#1a1a1a" stroke="#1a1a1a" stroke-width="0.15">0.4</text>
<text x="24.1" y="223.22" font-size="7.1" text-anchor="end" fill="#1a1a1a" stroke="#1a1a1a" stroke-width="0.15">0.6</text>
<text x="24.1" y="203.47" font-size="7.1" text-anchor="end" fill="#1a1a1a" stroke="#1a1a1a" stroke-width="0.15">0.8</text>
<text x="24.1" y="183.73" font-size="7.1" text-anchor="end" fill="#1a1a1a" stroke="#1a1a1a" stroke-width="0.15">1.0</text>
<text x="24.1" y="163.99" font-size="7.1" text-anchor="end" fill="#1a1a1a" stroke="#1a1a1a" stroke-width="0.15">1.2</text>
<path d="M27.9 280.3h-2.2M27.9 270.43h-1.2M27.9 260.56h-2.2M27.9 250.68h-1.2M27.9 240.81h-2.2M27.9 230.94h-1.2M27.9 221.07h-2.2M27.9 211.2h-1.2M27.9 201.32h-2.2M27.9 191.45h-1.2M27.9 181.58h-2.2M27.9 171.71h-1.2M27.9 161.84h-2.2M27.9 280.3v2.4M34.18 280.3v1.3M40.47 280.3v2.4M46.75 280.3v1.3M53.03 280.3v2.4M59.32 280.3v1.3M65.6 280.3v2.4M71.88 280.3v1.3M78.17 280.3v2.4M84.45 280.3v1.3M90.73 280.3v2.4M97.02 280.3v1.3M103.3 280.3v2.4M109.58 280.3v1.3M115.87 280.3v2.4M122.15 280.3v1.3M128.43 280.3v2.4M134.72 280.3v1.3M141 280.3v2.4M147.28 280.3v1.3M153.57 280.3v2.4M159.85 280.3v1.3M166.13 280.3v2.4M172.42 280.3v1.3M178.7 280.3v2.4" stroke="#1c1c1c" stroke-width="0.8" fill="none"/>
<text transform="translate(45.47 288.7) rotate(-45)" font-size="6.2" text-anchor="end" fill="#1a1a1a" stroke="#1a1a1a" stroke-width="0.15">pH 2</text>
<text transform="translate(58.03 288.7) rotate(-45)" font-size="6.2" text-anchor="end" fill="#1a1a1a" stroke="#1a1a1a" stroke-width="0.15">pH 3</text>
<text transform="translate(70.6 288.7) rotate(-45)" font-size="6.2" text-anchor="end" fill="#1a1a1a" stroke="#1a1a1a" stroke-width="0.15">pH 4</text>
<text transform="translate(83.17 288.7) rotate(-45)" font-size="6.2" text-anchor="end" fill="#1a1a1a" stroke="#1a1a1a" stroke-width="0.15">pH 5</text>
<text transform="translate(95.73 288.7) rotate(-45)" font-size="6.2" text-anchor="end" fill="#1a1a1a" stroke="#1a1a1a" stroke-width="0.15">pH 6</text>
<text transform="translate(108.3 288.7) rotate(-45)" font-size="6.2" text-anchor="end" fill="#1a1a1a" stroke="#1a1a1a" stroke-width="0.15">pH 7</text>
<text transform="translate(120.87 288.7) rotate(-45)" font-size="6.2" text-anchor="end" fill="#1a1a1a" stroke="#1a1a1a" stroke-width="0.15">pH 8</text>
<text transform="translate(133.43 288.7) rotate(-45)" font-size="6.2" text-anchor="end" fill="#1a1a1a" stroke="#1a1a1a" stroke-width="0.15">pH 9</text>
<text transform="translate(146 288.7) rotate(-45)" font-size="6.2" text-anchor="end" fill="#1a1a1a" stroke="#1a1a1a" stroke-width="0.15">pH 10</text>
<text transform="translate(158.57 288.7) rotate(-45)" font-size="6.2" text-anchor="end" fill="#1a1a1a" stroke="#1a1a1a" stroke-width="0.15">pH 11</text>
<text transform="translate(171.13 288.7) rotate(-45)" font-size="6.2" text-anchor="end" fill="#1a1a1a" stroke="#1a1a1a" stroke-width="0.15">pH 12</text>
<text x="33.4" y="169.2" font-size="7.5" font-weight="bold" fill="#111">(D) CQD@Lys</text>
<text transform="translate(8.7 224.7) rotate(-90)" font-size="7.4" font-weight="bold" letter-spacing="0.8" fill="#111" stroke="#111" stroke-width="0.25">I/I<tspan font-size="6.3" dy="2.1" dx="-0.8">0</tspan></text>
<rect x="219.69" y="185.51" width="9.7" height="94.69" fill="#0a8481" stroke="#083e3e" stroke-width="0.7"/>
<rect x="232.23" y="186" width="9.7" height="94.2" fill="#0a8481" stroke="#083e3e" stroke-width="0.7"/>
<rect x="244.78" y="182.05" width="9.7" height="98.15" fill="#0a8481" stroke="#083e3e" stroke-width="0.7"/>
<rect x="257.32" y="179.09" width="9.7" height="101.11" fill="#0a8481" stroke="#083e3e" stroke-width="0.7"/>
<rect x="269.86" y="176.63" width="9.7" height="103.57" fill="#0a8481" stroke="#083e3e" stroke-width="0.7"/>
<rect x="282.4" y="179.59" width="9.7" height="100.61" fill="#0a8481" stroke="#083e3e" stroke-width="0.7"/>
<rect x="294.94" y="184.52" width="9.7" height="95.68" fill="#0a8481" stroke="#083e3e" stroke-width="0.7"/>
<rect x="307.48" y="186" width="9.7" height="94.2" fill="#0a8481" stroke="#083e3e" stroke-width="0.7"/>
<rect x="320.02" y="189.45" width="9.7" height="90.75" fill="#0a8481" stroke="#083e3e" stroke-width="0.7"/>
<rect x="332.57" y="189.45" width="9.7" height="90.75" fill="#0a8481" stroke="#083e3e" stroke-width="0.7"/>
<rect x="345.11" y="189.45" width="9.7" height="90.75" fill="#0a8481" stroke="#083e3e" stroke-width="0.7"/>
<path d="M224.54 182.55V188.46M223.04 182.55h3M223.04 188.46h3" stroke="#1a1a1a" stroke-width="0.6" fill="none"/>
<path d="M237.08 182.05V189.94M235.58 182.05h3M235.58 189.94h3" stroke="#1a1a1a" stroke-width="0.6" fill="none"/>
<path d="M249.62 178.6V185.51M248.12 178.6h3M248.12 185.51h3" stroke="#1a1a1a" stroke-width="0.6" fill="none"/>
<path d="M262.17 177.61V180.57M260.67 177.61h3M260.67 180.57h3" stroke="#1a1a1a" stroke-width="0.6" fill="none"/>
<path d="M274.71 176.33V176.92M273.21 176.33h3M273.21 176.92h3" stroke="#1a1a1a" stroke-width="0.6" fill="none"/>
<path d="M287.25 179V180.18M285.75 179h3M285.75 180.18h3" stroke="#1a1a1a" stroke-width="0.6" fill="none"/>
<path d="M299.79 183.93V185.11M298.29 183.93h3M298.29 185.11h3" stroke="#1a1a1a" stroke-width="0.6" fill="none"/>
<path d="M312.33 185.41V186.59M310.83 185.41h3M310.83 186.59h3" stroke="#1a1a1a" stroke-width="0.6" fill="none"/>
<path d="M324.88 188.96V189.94M323.38 188.96h3M323.38 189.94h3" stroke="#1a1a1a" stroke-width="0.6" fill="none"/>
<path d="M337.42 188.27V190.63M335.92 188.27h3M335.92 190.63h3" stroke="#1a1a1a" stroke-width="0.6" fill="none"/>
<path d="M349.96 186.89V192.02M348.46 186.89h3M348.46 192.02h3" stroke="#1a1a1a" stroke-width="0.6" fill="none"/>
<rect x="245.9" y="199.9" width="83" height="74.9" fill="#fff" stroke="#bbb" stroke-width="0.4"/>
<path d="M263.76 252.19C264.08 250.97 265.04 247.3 265.69 244.86C266.33 242.41 266.97 239.97 267.62 237.52C268.26 235.08 268.9 232.5 269.55 230.19C270.19 227.87 270.84 225.55 271.48 223.62C272.12 221.69 272.77 220.05 273.41 218.6C274.05 217.15 274.7 215.9 275.34 214.93C275.98 213.97 276.63 213.29 277.27 212.81C277.91 212.33 278.56 212.04 279.2 212.04C279.84 212.04 280.49 212.33 281.13 212.81C281.77 213.29 282.26 213.84 283.06 214.93C283.87 216.03 284.99 217.8 285.96 219.37C286.92 220.95 287.89 222.75 288.85 224.39C289.82 226.03 290.78 227.71 291.75 229.22C292.71 230.73 293.68 232.15 294.64 233.47C295.61 234.79 296.41 235.82 297.54 237.14C298.67 238.45 300.11 240.13 301.4 241.38C302.69 242.64 303.98 243.73 305.26 244.66C306.55 245.6 307.84 246.34 309.12 246.98C310.41 247.62 311.63 248.11 312.98 248.53C314.34 248.94 316.52 249.33 317.23 249.49" fill="none" stroke="#34b96b" stroke-width="1.2" stroke-linejoin="round" stroke-linecap="round"/>
<path d="M263.76 252.19C264.08 250.91 265.04 247.05 265.69 244.47C266.33 241.9 266.97 239.32 267.62 236.75C268.26 234.18 268.9 231.44 269.55 229.03C270.19 226.61 270.84 224.27 271.48 222.27C272.12 220.28 272.77 218.57 273.41 217.06C274.05 215.55 274.7 214.19 275.34 213.2C275.98 212.2 276.63 211.56 277.27 211.07C277.91 210.59 278.56 210.27 279.2 210.3C279.84 210.33 280.49 210.72 281.13 211.27C281.77 211.81 282.26 212.39 283.06 213.58C283.87 214.77 284.99 216.74 285.96 218.41C286.92 220.08 287.89 221.92 288.85 223.62C289.82 225.33 290.78 227.1 291.75 228.64C292.71 230.19 293.68 231.54 294.64 232.89C295.61 234.24 296.41 235.4 297.54 236.75C298.67 238.1 300.11 239.71 301.4 241C302.69 242.28 303.98 243.51 305.26 244.47C306.55 245.44 307.84 246.14 309.12 246.79C310.41 247.43 311.63 247.88 312.98 248.33C314.34 248.78 316.52 249.3 317.23 249.49" fill="none" stroke="#ee3039" stroke-width="1.2" stroke-linejoin="round" stroke-linecap="round"/>
<path d="M263.76 252.19C264.08 251.03 265.04 247.56 265.69 245.24C266.33 242.93 266.97 240.61 267.62 238.29C268.26 235.98 268.9 233.53 269.55 231.34C270.19 229.16 270.84 227 271.48 225.17C272.12 223.33 272.77 221.76 273.41 220.34C274.05 218.92 274.7 217.6 275.34 216.67C275.98 215.74 276.63 215.19 277.27 214.74C277.91 214.29 278.56 213.97 279.2 213.97C279.84 213.97 280.49 214.29 281.13 214.74C281.77 215.19 282.26 215.67 283.06 216.67C283.87 217.67 284.99 219.28 285.96 220.73C286.92 222.17 287.89 223.81 288.85 225.36C289.82 226.9 290.78 228.54 291.75 229.99C292.71 231.44 293.68 232.76 294.64 234.05C295.61 235.33 296.41 236.43 297.54 237.71C298.67 239 300.11 240.55 301.4 241.77C302.69 242.99 303.98 244.15 305.26 245.05C306.55 245.95 307.84 246.59 309.12 247.17C310.41 247.75 311.63 248.14 312.98 248.53C314.34 248.91 316.52 249.33 317.23 249.49" fill="none" stroke="#276a9e" stroke-width="1.2" stroke-linejoin="round" stroke-linecap="round"/>
<rect x="258.5" y="202.8" width="67.8" height="55.1" fill="none" stroke="#444" stroke-width="0.6"/>
<path d="M265.8 257.9v1.2" stroke="#444" stroke-width="0.5"/>
<text x="265.8" y="262.85" font-size="4.3" text-anchor="middle" fill="#222">350</text>
<path d="M283.65 257.9v1.2" stroke="#444" stroke-width="0.5"/>
<text x="283.65" y="262.85" font-size="4.3" text-anchor="middle" fill="#222">400</text>
<path d="M301.5 257.9v1.2" stroke="#444" stroke-width="0.5"/>
<text x="301.5" y="262.85" font-size="4.3" text-anchor="middle" fill="#222">450</text>
<path d="M319.35 257.9v1.2" stroke="#444" stroke-width="0.5"/>
<text x="319.35" y="262.85" font-size="4.3" text-anchor="middle" fill="#222">500</text>
<text x="292.1" y="270.81" font-size="4.7" font-weight="bold" text-anchor="middle" fill="#222">Emission Wavelength / nm</text>
<text transform="translate(254.16 229.75) rotate(-90)" font-size="4.6" font-weight="bold" text-anchor="middle" fill="#222">FL intensity / a.u.</text>
<path d="M298 207.7h9.8" stroke="#34b96b" stroke-width="1.2"/>
<text x="308.8" y="209.18" font-size="4.1" fill="#222">pH = 2</text>
<path d="M298 212.95h9.8" stroke="#ee3039" stroke-width="1.2"/>
<text x="308.8" y="214.43" font-size="4.1" fill="#222">pH = 7</text>
<path d="M298 218.2h9.8" stroke="#276a9e" stroke-width="1.2"/>
<text x="308.8" y="219.68" font-size="4.1" fill="#222">pH = 12</text>
<path d="M211.5 156.9H363M211.5 280.2H363" stroke="#1c1c1c" stroke-width="1.3" fill="none"/>
<path d="M212 156.9V280.2" stroke="#1c1c1c" stroke-width="1" fill="none"/>
<path d="M362.5 156.9V280.2" stroke="#1c1c1c" stroke-width="1" fill="none"/>
<text x="208.2" y="282.35" font-size="7.1" text-anchor="end" fill="#1a1a1a" stroke="#1a1a1a" stroke-width="0.15">0.0</text>
<text x="208.2" y="262.62" font-size="7.1" text-anchor="end" fill="#1a1a1a" stroke="#1a1a1a" stroke-width="0.15">0.2</text>
<text x="208.2" y="242.89" font-size="7.1" text-anchor="end" fill="#1a1a1a" stroke="#1a1a1a" stroke-width="0.15">0.4</text>
<text x="208.2" y="223.17" font-size="7.1" text-anchor="end" fill="#1a1a1a" stroke="#1a1a1a" stroke-width="0.15">0.6</text>
<text x="208.2" y="203.44" font-size="7.1" text-anchor="end" fill="#1a1a1a" stroke="#1a1a1a" stroke-width="0.15">0.8</text>
<text x="208.2" y="183.71" font-size="7.1" text-anchor="end" fill="#1a1a1a" stroke="#1a1a1a" stroke-width="0.15">1.0</text>
<text x="208.2" y="163.98" font-size="7.1" text-anchor="end" fill="#1a1a1a" stroke="#1a1a1a" stroke-width="0.15">1.2</text>
<path d="M212 280.2h-2.2M212 270.34h-1.2M212 260.47h-2.2M212 250.61h-1.2M212 240.74h-2.2M212 230.88h-1.2M212 221.02h-2.2M212 211.15h-1.2M212 201.29h-2.2M212 191.42h-1.2M212 181.56h-2.2M212 171.7h-1.2M212 161.83h-2.2M212 280.2v2.4M218.27 280.2v1.3M224.54 280.2v2.4M230.81 280.2v1.3M237.08 280.2v2.4M243.35 280.2v1.3M249.62 280.2v2.4M255.9 280.2v1.3M262.17 280.2v2.4M268.44 280.2v1.3M274.71 280.2v2.4M280.98 280.2v1.3M287.25 280.2v2.4M293.52 280.2v1.3M299.79 280.2v2.4M306.06 280.2v1.3M312.33 280.2v2.4M318.6 280.2v1.3M324.88 280.2v2.4M331.15 280.2v1.3M337.42 280.2v2.4M343.69 280.2v1.3M349.96 280.2v2.4M356.23 280.2v1.3M362.5 280.2v2.4" stroke="#1c1c1c" stroke-width="0.8" fill="none"/>
<text transform="translate(229.54 288.6) rotate(-45)" font-size="6.2" text-anchor="end" fill="#1a1a1a" stroke="#1a1a1a" stroke-width="0.15">pH 2</text>
<text transform="translate(242.08 288.6) rotate(-45)" font-size="6.2" text-anchor="end" fill="#1a1a1a" stroke="#1a1a1a" stroke-width="0.15">pH 3</text>
<text transform="translate(254.62 288.6) rotate(-45)" font-size="6.2" text-anchor="end" fill="#1a1a1a" stroke="#1a1a1a" stroke-width="0.15">pH 4</text>
<text transform="translate(267.17 288.6) rotate(-45)" font-size="6.2" text-anchor="end" fill="#1a1a1a" stroke="#1a1a1a" stroke-width="0.15">pH 5</text>
<text transform="translate(279.71 288.6) rotate(-45)" font-size="6.2" text-anchor="end" fill="#1a1a1a" stroke="#1a1a1a" stroke-width="0.15">pH 6</text>
<text transform="translate(292.25 288.6) rotate(-45)" font-size="6.2" text-anchor="end" fill="#1a1a1a" stroke="#1a1a1a" stroke-width="0.15">pH 7</text>
<text transform="translate(304.79 288.6) rotate(-45)" font-size="6.2" text-anchor="end" fill="#1a1a1a" stroke="#1a1a1a" stroke-width="0.15">pH 8</text>
<text transform="translate(317.33 288.6) rotate(-45)" font-size="6.2" text-anchor="end" fill="#1a1a1a" stroke="#1a1a1a" stroke-width="0.15">pH 9</text>
<text transform="translate(329.88 288.6) rotate(-45)" font-size="6.2" text-anchor="end" fill="#1a1a1a" stroke="#1a1a1a" stroke-width="0.15">pH 10</text>
<text transform="translate(342.42 288.6) rotate(-45)" font-size="6.2" text-anchor="end" fill="#1a1a1a" stroke="#1a1a1a" stroke-width="0.15">pH 11</text>
<text transform="translate(354.96 288.6) rotate(-45)" font-size="6.2" text-anchor="end" fill="#1a1a1a" stroke="#1a1a1a" stroke-width="0.15">pH 12</text>
<text x="217.5" y="169.2" font-size="7.5" font-weight="bold" fill="#111">(E) CQD@Ala</text>
<text transform="translate(190.1 224.7) rotate(-90)" font-size="7.4" font-weight="bold" letter-spacing="0.8" fill="#111" stroke="#111" stroke-width="0.25">I/I<tspan font-size="6.3" dy="2.1" dx="-0.8">0</tspan></text>
<rect x="401.92" y="229.95" width="9.7" height="50.35" fill="#0a8481" stroke="#083e3e" stroke-width="0.7"/>
<rect x="414.5" y="178.12" width="9.7" height="102.18" fill="#0a8481" stroke="#083e3e" stroke-width="0.7"/>
<rect x="427.07" y="176.64" width="9.7" height="103.66" fill="#0a8481" stroke="#083e3e" stroke-width="0.7"/>
<rect x="439.65" y="177.14" width="9.7" height="103.16" fill="#0a8481" stroke="#083e3e" stroke-width="0.7"/>
<rect x="452.22" y="184.54" width="9.7" height="95.76" fill="#0a8481" stroke="#083e3e" stroke-width="0.7"/>
<rect x="464.8" y="191.45" width="9.7" height="88.85" fill="#0a8481" stroke="#083e3e" stroke-width="0.7"/>
<rect x="477.38" y="201.82" width="9.7" height="78.48" fill="#0a8481" stroke="#083e3e" stroke-width="0.7"/>
<rect x="489.95" y="209.72" width="9.7" height="70.58" fill="#0a8481" stroke="#083e3e" stroke-width="0.7"/>
<rect x="502.52" y="212.18" width="9.7" height="68.12" fill="#0a8481" stroke="#083e3e" stroke-width="0.7"/>
<rect x="515.1" y="219.09" width="9.7" height="61.21" fill="#0a8481" stroke="#083e3e" stroke-width="0.7"/>
<rect x="527.68" y="220.57" width="9.7" height="59.73" fill="#0a8481" stroke="#083e3e" stroke-width="0.7"/>
<path d="M406.77 226.5V233.41M405.27 226.5h3M405.27 233.41h3" stroke="#1a1a1a" stroke-width="0.6" fill="none"/>
<path d="M419.35 176.64V179.61M417.85 176.64h3M417.85 179.61h3" stroke="#1a1a1a" stroke-width="0.6" fill="none"/>
<path d="M431.93 176.35V176.94M430.43 176.35h3M430.43 176.94h3" stroke="#1a1a1a" stroke-width="0.6" fill="none"/>
<path d="M444.5 175.66V178.62M443 175.66h3M443 178.62h3" stroke="#1a1a1a" stroke-width="0.6" fill="none"/>
<path d="M457.07 184.05V185.04M455.57 184.05h3M455.57 185.04h3" stroke="#1a1a1a" stroke-width="0.6" fill="none"/>
<path d="M469.65 191.06V191.85M468.15 191.06h3M468.15 191.85h3" stroke="#1a1a1a" stroke-width="0.6" fill="none"/>
<path d="M482.23 201.52V202.11M480.73 201.52h3M480.73 202.11h3" stroke="#1a1a1a" stroke-width="0.6" fill="none"/>
<path d="M494.8 209.32V210.11M493.3 209.32h3M493.3 210.11h3" stroke="#1a1a1a" stroke-width="0.6" fill="none"/>
<path d="M507.38 211.89V212.48M505.88 211.89h3M505.88 212.48h3" stroke="#1a1a1a" stroke-width="0.6" fill="none"/>
<path d="M519.95 216.63V221.56M518.45 216.63h3M518.45 221.56h3" stroke="#1a1a1a" stroke-width="0.6" fill="none"/>
<path d="M532.53 217.12V224.03M531.03 217.12h3M531.03 224.03h3" stroke="#1a1a1a" stroke-width="0.6" fill="none"/>
<rect x="416.8" y="214.8" width="69.1" height="61.2" fill="#fff" stroke="#bbb" stroke-width="0.4"/>
<path d="M432.72 259.52C433.07 258.45 434.05 255.17 434.8 253.12C435.55 251.07 436.4 248.85 437.2 247.2C438 245.55 438.8 244.27 439.6 243.2C440.4 242.13 441.2 241.33 442 240.8C442.8 240.27 443.6 240 444.4 240C445.2 240 446 240.32 446.8 240.8C447.6 241.28 448.4 242.08 449.2 242.88C450 243.68 450.8 244.69 451.6 245.6C452.4 246.51 453.2 247.44 454 248.32C454.8 249.2 455.6 250.13 456.4 250.88C457.2 251.63 458 252.21 458.8 252.8C459.6 253.39 460.27 253.87 461.2 254.4C462.13 254.93 463.39 255.55 464.4 256C465.41 256.45 466.43 256.85 467.28 257.12C468.13 257.39 469.15 257.52 469.52 257.6" fill="none" stroke="#34b96b" stroke-width="1.2" stroke-linejoin="round" stroke-linecap="round"/>
<path d="M430.8 259.52C431.07 258.8 431.73 257.25 432.4 255.2C433.07 253.15 434 249.73 434.8 247.2C435.6 244.67 436.4 242.27 437.2 240C438 237.73 438.8 235.47 439.6 233.6C440.4 231.73 441.2 230.08 442 228.8C442.8 227.52 443.6 226.59 444.4 225.92C445.2 225.25 446 224.8 446.8 224.8C447.6 224.8 448.4 225.2 449.2 225.92C450 226.64 450.8 227.97 451.6 229.12C452.4 230.27 453.2 231.57 454 232.8C454.8 234.03 455.6 235.28 456.4 236.48C457.2 237.68 458 238.88 458.8 240C459.6 241.12 460.27 242 461.2 243.2C462.13 244.4 463.33 246 464.4 247.2C465.47 248.4 466.53 249.47 467.6 250.4C468.67 251.33 469.73 252.08 470.8 252.8C471.87 253.52 472.93 254.13 474 254.72C475.07 255.31 476.45 255.95 477.2 256.32C477.95 256.69 478.27 256.85 478.48 256.96" fill="none" stroke="#ee3039" stroke-width="1.2" stroke-linejoin="round" stroke-linecap="round"/>
<path d="M432.72 259.52C433.07 258.53 434.05 255.65 434.8 253.6C435.55 251.55 436.4 249.07 437.2 247.2C438 245.33 438.8 243.73 439.6 242.4C440.4 241.07 441.2 240.08 442 239.2C442.8 238.32 443.47 237.65 444.4 237.12C445.33 236.59 446.67 236.05 447.6 236C448.53 235.95 449.2 236.35 450 236.8C450.8 237.25 451.6 237.97 452.4 238.72C453.2 239.47 454 240.4 454.8 241.28C455.6 242.16 456.4 243.15 457.2 244C458 244.85 458.8 245.6 459.6 246.4C460.4 247.2 461.07 247.95 462 248.8C462.93 249.65 464.13 250.72 465.2 251.52C466.27 252.32 467.33 252.99 468.4 253.6C469.47 254.21 470.53 254.75 471.6 255.2C472.67 255.65 473.65 255.97 474.8 256.32C475.95 256.67 477.87 257.12 478.48 257.28" fill="none" stroke="#276a9e" stroke-width="1.2" stroke-linejoin="round" stroke-linecap="round"/>
<rect x="427.5" y="217.4" width="55.5" height="45.4" fill="none" stroke="#444" stroke-width="0.6"/>
<path d="M437.6 262.8v1.2" stroke="#444" stroke-width="0.5"/>
<text x="437.6" y="268.34" font-size="4" text-anchor="middle" fill="#222">350</text>
<path d="M450.4 262.8v1.2" stroke="#444" stroke-width="0.5"/>
<text x="450.4" y="268.34" font-size="4" text-anchor="middle" fill="#222">400</text>
<path d="M463.2 262.8v1.2" stroke="#444" stroke-width="0.5"/>
<text x="463.2" y="268.34" font-size="4" text-anchor="middle" fill="#222">450</text>
<path d="M476 262.8v1.2" stroke="#444" stroke-width="0.5"/>
<text x="476" y="268.34" font-size="4" text-anchor="middle" fill="#222">500</text>
<text x="455.4" y="272.98" font-size="3.93" font-weight="bold" text-anchor="middle" fill="#222">Emission Wavelength / nm</text>
<text transform="translate(423.48 239.7) rotate(-90)" font-size="4.1" font-weight="bold" text-anchor="middle" fill="#222">FL intensity / a.u.</text>
<path d="M459.2 221.6h8" stroke="#34b96b" stroke-width="1.2"/>
<text x="468.2" y="222.84" font-size="3.45" fill="#222">pH = 2</text>
<path d="M459.2 225.75h8" stroke="#ee3039" stroke-width="1.2"/>
<text x="468.2" y="226.99" font-size="3.45" fill="#222">pH = 7</text>
<path d="M459.2 229.9h8" stroke="#276a9e" stroke-width="1.2"/>
<text x="468.2" y="231.14" font-size="3.45" fill="#222">pH = 12</text>
<path d="M393.7 156.9H545.6M393.7 280.3H545.6" stroke="#1c1c1c" stroke-width="1.3" fill="none"/>
<path d="M394.2 156.9V280.3" stroke="#1c1c1c" stroke-width="1" fill="none"/>
<path d="M545.1 156.9V280.3" stroke="#1c1c1c" stroke-width="1" fill="none"/>
<text x="390.4" y="282.45" font-size="7.1" text-anchor="end" fill="#1a1a1a" stroke="#1a1a1a" stroke-width="0.15">0.0</text>
<text x="390.4" y="262.71" font-size="7.1" text-anchor="end" fill="#1a1a1a" stroke="#1a1a1a" stroke-width="0.15">0.2</text>
<text x="390.4" y="242.96" font-size="7.1" text-anchor="end" fill="#1a1a1a" stroke="#1a1a1a" stroke-width="0.15">0.4</text>
<text x="390.4" y="223.22" font-size="7.1" text-anchor="end" fill="#1a1a1a" stroke="#1a1a1a" stroke-width="0.15">0.6</text>
<text x="390.4" y="203.47" font-size="7.1" text-anchor="end" fill="#1a1a1a" stroke="#1a1a1a" stroke-width="0.15">0.8</text>
<text x="390.4" y="183.73" font-size="7.1" text-anchor="end" fill="#1a1a1a" stroke="#1a1a1a" stroke-width="0.15">1.0</text>
<text x="390.4" y="163.99" font-size="7.1" text-anchor="end" fill="#1a1a1a" stroke="#1a1a1a" stroke-width="0.15">1.2</text>
<path d="M394.2 280.3h-2.2M394.2 270.43h-1.2M394.2 260.56h-2.2M394.2 250.68h-1.2M394.2 240.81h-2.2M394.2 230.94h-1.2M394.2 221.07h-2.2M394.2 211.2h-1.2M394.2 201.32h-2.2M394.2 191.45h-1.2M394.2 181.58h-2.2M394.2 171.71h-1.2M394.2 161.84h-2.2M394.2 280.3v2.4M400.49 280.3v1.3M406.77 280.3v2.4M413.06 280.3v1.3M419.35 280.3v2.4M425.64 280.3v1.3M431.93 280.3v2.4M438.21 280.3v1.3M444.5 280.3v2.4M450.79 280.3v1.3M457.07 280.3v2.4M463.36 280.3v1.3M469.65 280.3v2.4M475.94 280.3v1.3M482.23 280.3v2.4M488.51 280.3v1.3M494.8 280.3v2.4M501.09 280.3v1.3M507.38 280.3v2.4M513.66 280.3v1.3M519.95 280.3v2.4M526.24 280.3v1.3M532.53 280.3v2.4M538.81 280.3v1.3M545.1 280.3v2.4" stroke="#1c1c1c" stroke-width="0.8" fill="none"/>
<text transform="translate(411.77 288.7) rotate(-45)" font-size="6.2" text-anchor="end" fill="#1a1a1a" stroke="#1a1a1a" stroke-width="0.15">pH 2</text>
<text transform="translate(424.35 288.7) rotate(-45)" font-size="6.2" text-anchor="end" fill="#1a1a1a" stroke="#1a1a1a" stroke-width="0.15">pH 3</text>
<text transform="translate(436.93 288.7) rotate(-45)" font-size="6.2" text-anchor="end" fill="#1a1a1a" stroke="#1a1a1a" stroke-width="0.15">pH 4</text>
<text transform="translate(449.5 288.7) rotate(-45)" font-size="6.2" text-anchor="end" fill="#1a1a1a" stroke="#1a1a1a" stroke-width="0.15">pH 5</text>
<text transform="translate(462.07 288.7) rotate(-45)" font-size="6.2" text-anchor="end" fill="#1a1a1a" stroke="#1a1a1a" stroke-width="0.15">pH 6</text>
<text transform="translate(474.65 288.7) rotate(-45)" font-size="6.2" text-anchor="end" fill="#1a1a1a" stroke="#1a1a1a" stroke-width="0.15">pH 7</text>
<text transform="translate(487.23 288.7) rotate(-45)" font-size="6.2" text-anchor="end" fill="#1a1a1a" stroke="#1a1a1a" stroke-width="0.15">pH 8</text>
<text transform="translate(499.8 288.7) rotate(-45)" font-size="6.2" text-anchor="end" fill="#1a1a1a" stroke="#1a1a1a" stroke-width="0.15">pH 9</text>
<text transform="translate(512.38 288.7) rotate(-45)" font-size="6.2" text-anchor="end" fill="#1a1a1a" stroke="#1a1a1a" stroke-width="0.15">pH 10</text>
<text transform="translate(524.95 288.7) rotate(-45)" font-size="6.2" text-anchor="end" fill="#1a1a1a" stroke="#1a1a1a" stroke-width="0.15">pH 11</text>
<text transform="translate(537.53 288.7) rotate(-45)" font-size="6.2" text-anchor="end" fill="#1a1a1a" stroke="#1a1a1a" stroke-width="0.15">pH 12</text>
<text x="399.7" y="169.2" font-size="7.5" font-weight="bold" fill="#111">(F) CQD@His</text>
<text transform="translate(374.7 224.7) rotate(-90)" font-size="7.4" font-weight="bold" letter-spacing="0.8" fill="#111" stroke="#111" stroke-width="0.25">I/I<tspan font-size="6.3" dy="2.1" dx="-0.8">0</tspan></text>
</svg>
</body></html>
